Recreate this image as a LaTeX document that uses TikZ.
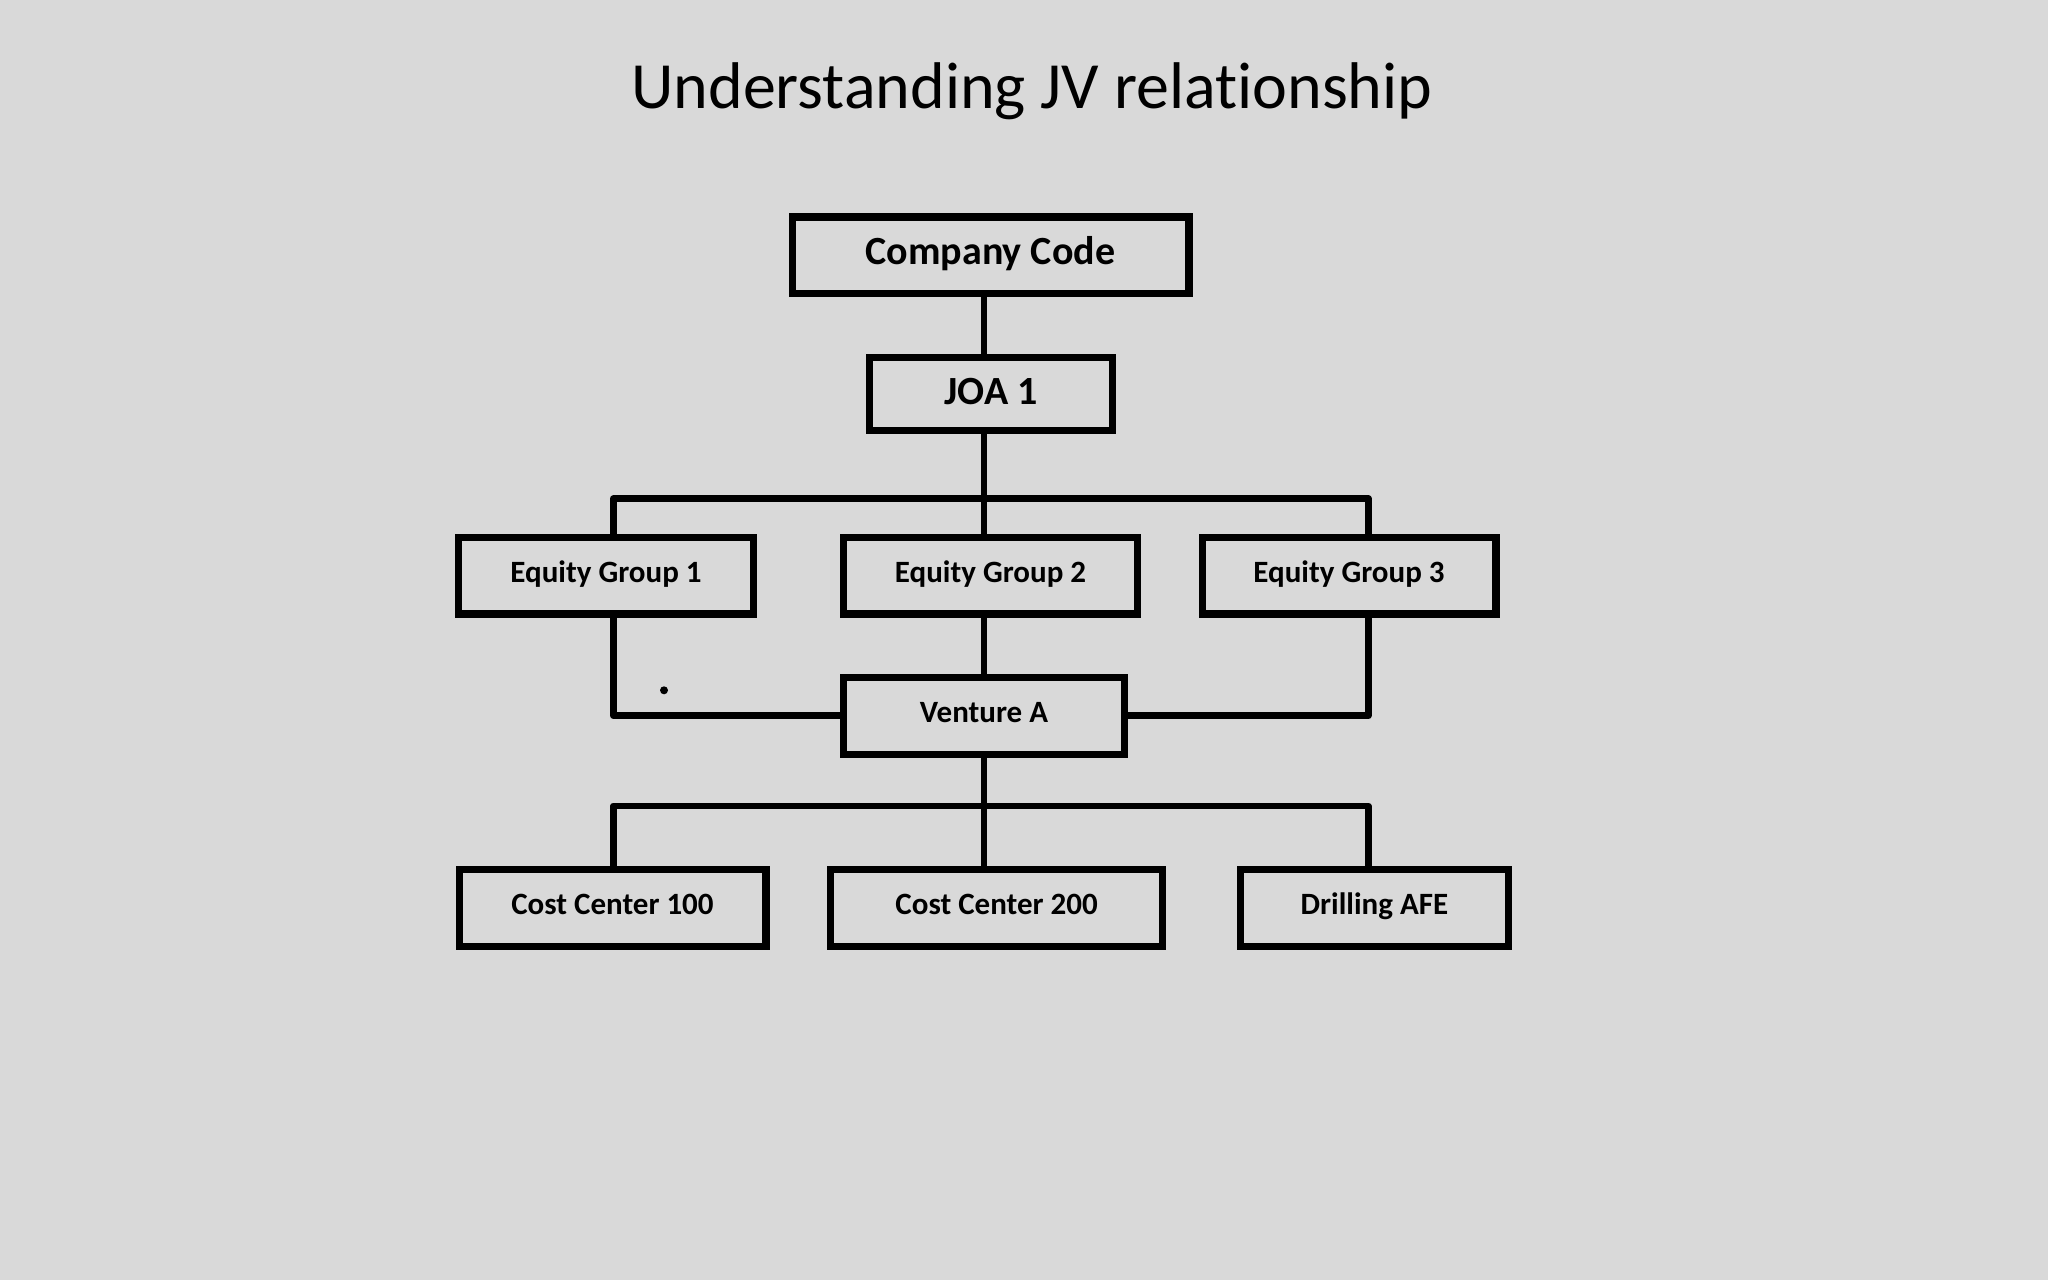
\documentclass[tikz,border=0pt]{standalone}
\usepackage{fontspec}
\setmainfont{Carlito}[Ligatures=NoCommon]
\definecolor{bgcol}{RGB}{217,217,217}
\tikzset{
  box/.style={draw=black, line width=7.3pt, fill=bgcol, inner sep=0pt, outer sep=0pt,
    font=\bfseries\fontsize{31}{37}\selectfont, text height=20pt, text depth=7pt},
  bigbox/.style={box, font=\bfseries\fontsize{40}{48}\selectfont, text height=26pt, text depth=8.6pt},
  conn/.style={draw=black, line width=6.7pt, line join=round},
}
\begin{document}
\begin{tikzpicture}[x=1pt,y=-1pt]
\fill[bgcol] (0,0) rectangle (2048,1280);
\useasboundingbox (0,0) rectangle (2048,1280);

\node[anchor=base, font=\fontsize{66}{79}\selectfont] (title) at (1032,108) {Understanding JV relationship};

% spine coordinates
\coordinate (xl) at (613.3,0);
\coordinate (xm) at (984,0);
\coordinate (xr) at (1368.3,0);
\coordinate (bus1) at (0,498.7);
\coordinate (mid) at (0,715.7);
\coordinate (bus2) at (0,806);

% connectors (drawn first, boxes on top)
\path[conn] (xm |- 0,255) -- (xm |- 0,394);
\path[conn] (xm |- 0,394) -- (xm |- bus1) -- (xm |- 0,575);
\path[conn] (xl |- 0,575) -- (xl |- bus1) -- (xr |- bus1) -- (xr |- 0,575);
\path[conn] (xl |- 0,575) -- (xl |- mid) -- (900,715.7);
\path[conn] (xr |- 0,575) -- (xr |- mid) -- (1070,715.7);
\path[conn] (xm |- 0,575) -- (xm |- 0,716);
\path[conn] (xm |- 0,716) -- (xm |- bus2);
\path[conn] (xl |- 0,908) -- (xl |- bus2) -- (xr |- bus2) -- (xr |- 0,908);
\path[conn] (xm |- bus2) -- (xm |- 0,908);

\node[bigbox, minimum width=396.7pt, minimum height=76.7pt] (cc) at (990.5,255.3) {Company Code};
\node[bigbox, minimum width=242.7pt, minimum height=72.7pt, text height=28pt, text depth=7.4pt] (joa) at (991,394) {JOA 1};

\node[box, minimum width=294.7pt, minimum height=76.7pt] (eg1) at (606,575.5) {Equity Group 1};
\node[box, minimum width=293.7pt, minimum height=76.7pt] (eg2) at (990.5,575.5) {Equity Group 2};
\node[box, minimum width=293.7pt, minimum height=76.7pt] (eg3) at (1349,575.5) {Equity Group 3};

\node[box, minimum width=280.7pt, minimum height=76.7pt] (va) at (984,716) {Venture A};

\node[box, minimum width=306.7pt, minimum height=76.7pt] (c1) at (612.5,908) {Cost Center 100};
\node[box, minimum width=331.7pt, minimum height=76.7pt] (c2) at (996.6,908) {Cost Center 200};
\node[box, minimum width=267.7pt, minimum height=76.7pt] (da) at (1374.4,908) {Drilling AFE};

\fill[black] (664,690.3) circle (4pt);
\end{tikzpicture}
\end{document}
